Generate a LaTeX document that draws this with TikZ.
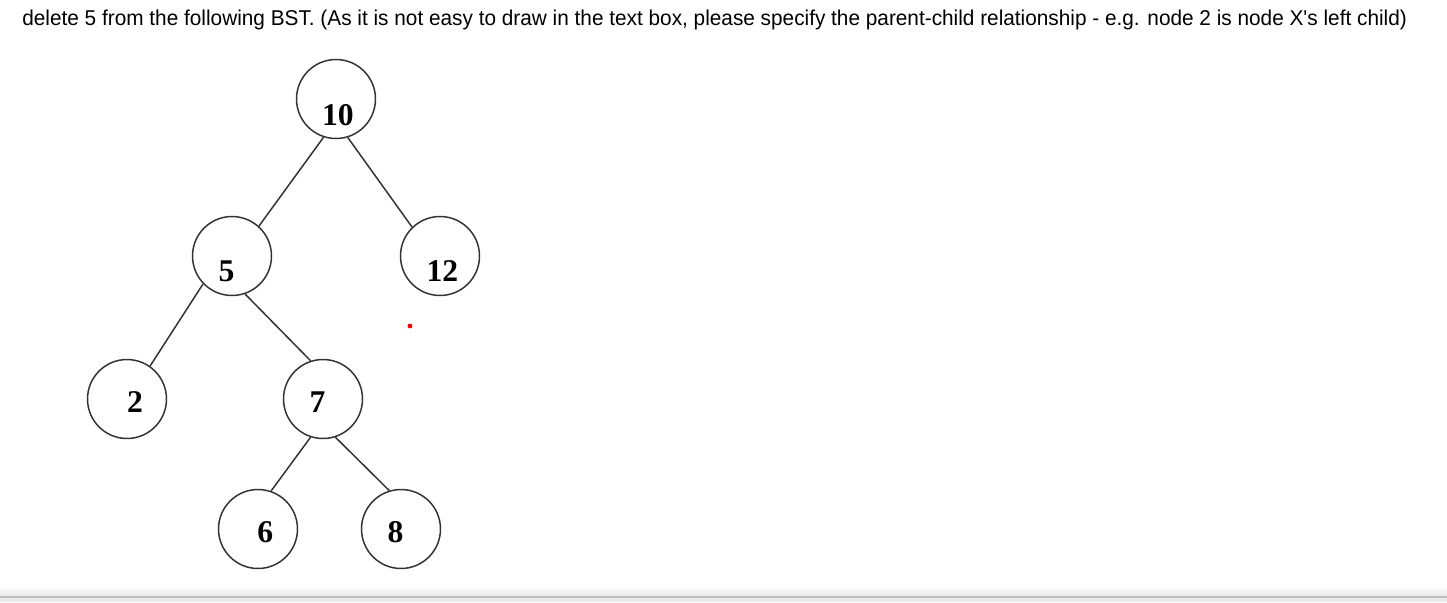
\documentclass[tikz,border=0pt]{standalone}
\usepackage{fontspec}
\setmainfont{Liberation Serif}
\newfontfamily\headfont[FakeStretch=0.97]{Liberation Sans}
\usepackage{tikz}

\begin{document}
\begin{tikzpicture}[x=0.02cm,y=-0.02cm,
    key/.style={circle,draw=black!80,line width=0.85pt,minimum size=1.58cm,inner sep=0pt},
    num/.style={font=\fontsize{18}{20}\selectfont\bfseries,text=black},
    edge/.style={draw=black!80,line width=0.85pt}]
    \useasboundingbox (0,0) rectangle (1447,602);
    \shade[top color=white,bottom color=black!10] (0,586) rectangle (1447,597);
    \fill[black!8] (0,597) rectangle (1447,602);
    \draw[black!25,line width=0.6pt] (0,597) -- (1447,597);
    \node[anchor=base west,inner sep=0pt,font=\headfont\fontsize{12.2}{14}\selectfont] (quest) at (22,25)
      {delete 5 from the following BST. (As it is not easy to draw in the text box, please specify the parent-child relationship - e.g. node 2 is node X's left child)};
    \node[key,label={[num,xshift=1.1pt,yshift=-9.1pt]center:10}] (n10) at (336,99) {};
    \node[key,label={[num,xshift=-3.1pt,yshift=-8.9pt]center:5}] (n5) at (232,256) {};
    \node[key,label={[num,xshift=1.4pt,yshift=-8.4pt]center:12}] (n12) at (440,256) {};
    \node[key,label={[num,xshift=4.6pt,yshift=-2pt]center:2}] (n2) at (127,399) {};
    \node[key,label={[num,xshift=-3.1pt,yshift=-2pt]center:7}] (n7) at (323,399) {};
    \node[key,label={[num,xshift=4.1pt,yshift=-1.8pt]center:6}] (n6) at (258,529) {};
    \node[key,label={[num,xshift=-3.1pt,yshift=-1.8pt]center:8}] (n8) at (401,529) {};
    \draw[edge] (n10.252) -- (n5.48);
    \draw[edge] (n10.287) -- (n12.134);
    \draw[edge] (n5.224) -- (n2.55);
    \draw[edge] (n5.289) -- (n7.108);
    \draw[edge] (n7.252) -- (n6.71);
    \draw[edge] (n7.288) -- (n8.107);
    \fill[red] (410,326) circle (2.4);
\end{tikzpicture}
\end{document}
